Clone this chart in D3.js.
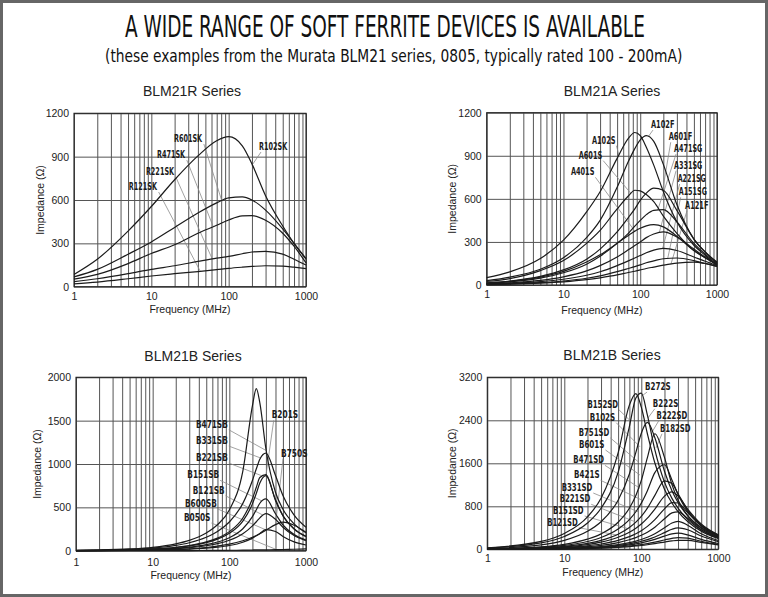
<!DOCTYPE html>
<html>
<head>
<meta charset="utf-8">
<script src="https://cdn.jsdelivr.net/npm/d3@7"></script>
<style>
  html, body { margin: 0; padding: 0; background: #fff; }
  svg { display: block; }
  .grid line { stroke: #555; stroke-width: 1; }
  .curve { fill: none; stroke: #1b1b1b; stroke-width: 1.2; }
  .leader { stroke: #8a8a8a; stroke-width: 0.8; }
  .panel-title, .axis-label { font-family: "Liberation Sans", Arial, sans-serif; fill: #222; }
  .curve-label { font-family: "DejaVu Sans Condensed", "Liberation Sans Narrow", sans-serif; font-weight: bold; fill: #1b1b1b; }
  .headline { font-family: "DejaVu Sans Condensed", "Liberation Sans Narrow", sans-serif; fill: #111; }
</style>
</head>
<body>
<svg id="chart" width="768" height="597"></svg>
<script>
const FREQ_TICKS = [1, 10, 100, 1000];

// BLM21R
const freqR = [1, 2, 5, 10, 20, 40, 70, 100, 150, 200, 300, 500, 700, 1000];
const ticksR = [0, 300, 600, 900, 1200];
const r102sk = [85, 190, 385, 555, 740, 905, 1010, 1038, 975, 850, 630, 420, 300, 196];
const r601sk = [68, 120, 225, 310, 410, 510, 580, 615, 622, 600, 530, 400, 300, 190];
const r471sk = [52, 85, 160, 230, 290, 370, 425, 462, 490, 492, 460, 370, 280, 165];
const r221sk = [35, 55, 90, 120, 145, 175, 198, 210, 228, 240, 245, 225, 190, 150];
const r121sk = [20, 32, 55, 74, 90, 105, 118, 127, 135, 140, 145, 143, 135, 125];

// BLM21A
const freqA = [1, 2, 5, 10, 20, 30, 50, 70, 85, 100, 120, 150, 200, 300, 500, 700, 1000];
const ticksA = [0, 300, 600, 900, 1200];
const a102s = [51, 91, 184, 312, 509, 649, 882, 1021, 1062, 1040, 960, 835, 650, 440, 277, 207, 137];
const a102f = [30, 55, 110, 190, 330, 450, 680, 860, 950, 1010, 1040, 1000, 840, 560, 320, 230, 155];
const a601s = [25, 45, 100, 170, 290, 380, 530, 620, 660, 655, 630, 580, 480, 360, 240, 190, 145];
const a601f = [15, 28, 60, 105, 180, 250, 370, 470, 530, 590, 640, 675, 660, 520, 320, 230, 160];
const a471sg = [12, 22, 48, 85, 145, 200, 290, 360, 410, 450, 490, 520, 525, 440, 290, 215, 150];
const a401s = [14, 25, 55, 95, 160, 210, 290, 345, 375, 395, 412, 420, 405, 340, 240, 190, 140];
const a331sg = [8, 15, 32, 57, 98, 135, 195, 245, 275, 300, 330, 355, 370, 335, 250, 195, 145];
const a221sg = [6, 11, 23, 40, 68, 92, 135, 168, 188, 205, 225, 243, 255, 240, 195, 165, 135];
const a151sg = [4, 8, 16, 28, 47, 64, 93, 115, 128, 140, 155, 168, 183, 188, 170, 150, 130];
const a121f = [3, 6, 13, 22, 37, 50, 70, 87, 96, 105, 115, 125, 138, 153, 160, 150, 130];

// BLM21B (SB types)
const freqB = [1, 2, 5, 10, 20, 30, 50, 70, 100, 150, 200, 225, 250, 300, 400, 500, 700, 1000];
const ticksB = [0, 500, 1000, 1500, 2000];
const b471sb = [4, 8, 20, 39, 79, 119, 204, 299, 470, 918, 1671, 1870, 1705, 1173, 674, 479, 310, 207];
const b331sb = [3, 6, 15, 30, 61, 92, 155, 221, 331, 546, 810, 945, 1056, 1126, 867, 637, 411, 271];
const b221sb = [2, 4, 10, 20, 40, 60, 101, 145, 220, 377, 600, 731, 844, 878, 580, 403, 252, 165];
const b201s = [2, 4, 9, 18, 36, 55, 93, 133, 200, 341, 540, 662, 780, 865, 589, 405, 251, 163];
const b151sb = [1, 3, 7, 14, 27, 41, 70, 100, 150, 253, 393, 473, 547, 597, 426, 299, 187, 122];
const b121sb = [1, 2, 6, 11, 22, 34, 57, 81, 120, 195, 286, 334, 379, 428, 362, 271, 175, 115];
const b600sb = [0, 1, 3, 6, 11, 17, 29, 41, 60, 98, 145, 172, 199, 242, 222, 164, 102, 66];
const b750s = [1, 2, 4, 7, 15, 22, 37, 53, 75, 115, 155, 175, 196, 235, 301, 329, 294, 212];
const b050s = [0, 0, 1, 1, 2, 2, 3, 4, 5, 6, 8, 9, 9, 10, 12, 14, 17, 20];

// BLM21B (S / SD types)
const freqS = [1, 5, 10, 20, 30, 50, 70, 85, 100, 120, 150, 200, 250, 300, 400, 600, 1000];
const ticksS = [0, 800, 1600, 2400, 3200];
const b152sd = [29, 146, 294, 604, 950, 1794, 2682, 2895, 2644, 2150, 1605, 1118, 861, 703, 516, 338, 201];
const b272s = [24, 119, 239, 489, 763, 1431, 2282, 2814, 2904, 2498, 1849, 1250, 947, 766, 557, 363, 215];
const b222s = [16, 82, 165, 334, 512, 914, 1400, 1803, 2160, 2360, 2076, 1453, 1088, 871, 625, 404, 238];
const b222sd = [9, 46, 93, 189, 287, 504, 764, 1000, 1281, 1706, 2150, 1709, 1203, 919, 628, 392, 227];
const b182sd = [7, 36, 72, 145, 220, 378, 552, 699, 859, 1091, 1427, 1573, 1290, 1021, 704, 437, 252];
const b102s = [5, 27, 55, 110, 166, 281, 406, 506, 613, 765, 1003, 1274, 1224, 1034, 731, 452, 259];
const b751sd = [4, 22, 44, 88, 132, 223, 318, 393, 471, 580, 749, 990, 1069, 991, 749, 471, 270];
const b601s = [3, 16, 33, 65, 98, 166, 236, 290, 347, 426, 551, 752, 870, 861, 685, 432, 246];
const b471sd = [2, 12, 25, 49, 74, 125, 177, 218, 260, 319, 412, 567, 677, 696, 576, 366, 207];
const b421s = [2, 9, 17, 35, 52, 88, 125, 153, 183, 224, 288, 399, 488, 520, 449, 288, 163];
const b331sd = [1, 7, 14, 29, 43, 72, 102, 125, 149, 181, 230, 310, 373, 399, 363, 247, 142];
const b221sd = [1, 6, 12, 24, 35, 59, 84, 102, 121, 147, 185, 245, 286, 300, 269, 185, 108];
const b151sd = [1, 4, 9, 17, 26, 43, 61, 74, 87, 105, 132, 173, 204, 219, 207, 150, 90];
const b121sd = [1, 4, 7, 14, 21, 36, 50, 61, 71, 85, 105, 134, 156, 167, 166, 130, 82];

// label placement: [name, text freq, text ohms, leader freq, leader ohms, side]
const labelsR = [
  ["R601SK", 19.6, 1001, 82, 590, "left"],
  ["R471SK", 11.8, 890, 62.7, 420, "left"],
  ["R221SK", 8.5, 773, 61, 195, "left"],
  ["R121SK", 5.1, 669, 42.6, 110, "left"],
  ["R102SK", 247, 946, 200, 840, "right"]
];
const labelsA = [
  ["A102S", 23.5, 984, 53, 900, "left"],
  ["A601S", 15.8, 880, 75, 640, "left"],
  ["A401S", 12.5, 764, 85, 375, "left"],
  ["A102F", 138, 1093, 128, 1035, "right"],
  ["A601F", 235, 1008, 196, 662, "right"],
  ["A471SG", 276, 926, 169, 522, "right"],
  ["A331SG", 276, 810, 177, 365, "right"],
  ["A221SG", 307, 717, 196, 255, "right"],
  ["A151SG", 317, 625, 228, 185, "right"],
  ["A121F", 383, 531, 251, 145, "right"]
];
const labelsB = [
  ["B471SB", 36.7, 1418, 310, 1150, "left"],
  ["B331SB", 36.7, 1230, 255, 1070, "left"],
  ["B221SB", 36.7, 1034, 264, 865, "left"],
  ["B151SB", 28.3, 835, 264, 575, "left"],
  ["B121SB", 33.3, 657, 275, 410, "left"],
  ["B600SB", 26.4, 504, 300, 240, "left"],
  ["B050S", 25.6, 342, 415, 12, "left"],
  ["B201S", 357, 1527, 300, 865, "right"],
  ["B750S", 472, 1084, 400, 300, "right"]
];
const labelsS = [
  ["B152SD", 20, 2630, 71, 2400, "left"],
  ["B102S", 21.4, 2392, 96, 1908, "left"],
  ["B751SD", 15.4, 2110, 91, 1630, "left"],
  ["B601S", 15.5, 1885, 96, 1382, "left"],
  ["B471SD", 13.1, 1600, 96, 1135, "left"],
  ["B421S", 13.4, 1321, 101, 917, "left"],
  ["B331SD", 9.25, 1084, 91, 699, "left"],
  ["B221SD", 8.7, 874, 83, 513, "left"],
  ["B151SD", 7.13, 657, 65, 391, "left"],
  ["B121SD", 6.0, 439, 48, 266, "left"],
  ["B272S", 112, 2963, 101, 2850, "right"],
  ["B222S", 141, 2652, 122, 2442, "right"],
  ["B222SD", 158, 2424, 138, 2182, "right"],
  ["B182SD", 175, 2187, 155, 1884, "right"]
];

const panels = [
  {
    title: "BLM21R Series", box: [74, 113.3, 306, 286.7], yMax: 1200, yTicks: ticksR,
    freq: freqR, series: [r102sk, r601sk, r471sk, r221sk, r121sk], labels: labelsR,
    titleX: 192, titleY: 96, yLabelX: 40, xTickPad: 6, xLabelY: 313, labelSize: 10, charW: 4.7
  },
  {
    title: "BLM21A Series", box: [486.7, 112.7, 717, 285], yMax: 1200, yTicks: ticksA,
    freq: freqA, series: [a102s, a102f, a601s, a601f, a471sg, a401s, a331sg, a221sg, a151sg, a121f],
    labels: labelsA, titleX: 612, titleY: 95.5, yLabelX: 452, xTickPad: 6, xLabelY: 314, labelSize: 10, charW: 4.7
  },
  {
    title: "BLM21B Series", box: [76, 377.3, 306, 550.7], yMax: 2000, yTicks: ticksB,
    freq: freqB, series: [b471sb, b331sb, b221sb, b201s, b151sb, b121sb, b600sb, b750s, b050s],
    labels: labelsB, titleX: 193, titleY: 361, yLabelX: 37, xTickPad: 8, xLabelY: 579, labelSize: 11, charW: 5.3,
    heavy: [b750s]
  },
  {
    title: "BLM21B Series", box: [487.3, 377.3, 718.3, 549.3], yMax: 3200, yTicks: ticksS,
    freq: freqS,
    series: [b152sd, b272s, b222s, b222sd, b182sd, b102s, b751sd, b601s, b471sd, b421s, b331sd, b221sd, b151sd, b121sd],
    labels: labelsS, titleX: 612, titleY: 360, yLabelX: 452, xTickPad: 5.5, xLabelY: 576, labelSize: 9.8, charW: 5.1
  }
];

const svg = d3.select("#chart");

svg.append("rect")
  .attr("x", 1.5).attr("y", 1.5)
  .attr("width", 765).attr("height", 594)
  .attr("fill", "#fff")
  .attr("stroke", "#666")
  .attr("stroke-width", 3);

addHeadline("A WIDE RANGE OF SOFT FERRITE DEVICES IS AVAILABLE", 125, 36.5, 31, 520);
addHeadline("(these examples from the Murata BLM21 series, 0805, typically rated 100 - 200mA)", 105, 62, 18.5, 578);

panels.forEach(drawPanel);

// squeeze a line of text horizontally so it spans the given width
function addHeadline(str, x, y, size, width) {
  const t = svg.append("text")
    .attr("class", "headline")
    .attr("font-size", size)
    .text(str);
  const natural = t.node().getComputedTextLength();
  t.attr("transform", `translate(${x},${y}) scale(${width / natural},1)`);
}

function drawPanel(p) {
  const [x0, y0, x1, y1] = p.box;
  const x = d3.scaleLog().domain([1, 1000]).range([x0, x1]);
  const y = d3.scaleLinear().domain([0, p.yMax]).range([y1, y0]);
  const g = svg.append("g");

  g.append("g")
    .attr("class", "grid")
    .attr("transform", `translate(0,${y1})`)
    .call(d3.axisBottom(x).tickValues(x.ticks()).tickSize(-(y1 - y0)).tickFormat(""))
    .call((s) => s.select(".domain").remove());

  g.append("g")
    .attr("class", "grid")
    .attr("transform", `translate(${x0},0)`)
    .call(d3.axisLeft(y).tickValues(p.yTicks).tickSize(-(x1 - x0)).tickFormat(""))
    .call((s) => s.select(".domain").remove());

  g.append("rect")
    .attr("x", x0).attr("y", y0)
    .attr("width", x1 - x0).attr("height", y1 - y0)
    .attr("fill", "none")
    .attr("stroke", "#222")
    .attr("stroke-width", 1.1);

  styleAxis(
    g.append("g")
      .attr("transform", `translate(0,${y1})`)
      .call(d3.axisBottom(x).tickValues(FREQ_TICKS).tickSize(0).tickPadding(p.xTickPad).tickFormat(d3.format("d")))
  );

  styleAxis(
    g.append("g")
      .attr("transform", `translate(${x0},0)`)
      .call(d3.axisLeft(y).tickValues(p.yTicks).tickSize(0).tickPadding(5).tickFormat(d3.format("d")))
  );

  g.append("text")
    .attr("class", "panel-title")
    .attr("x", p.titleX).attr("y", p.titleY)
    .attr("text-anchor", "middle")
    .attr("font-size", 14)
    .text(p.title);

  g.append("text")
    .attr("class", "axis-label")
    .attr("x", (x0 + x1) / 2).attr("y", p.xLabelY)
    .attr("text-anchor", "middle")
    .attr("font-size", 10.5)
    .text("Frequency (MHz)");

  g.append("text")
    .attr("class", "axis-label")
    .attr("transform", `translate(${p.yLabelX},${(y0 + y1) / 2}) rotate(-90)`)
    .attr("text-anchor", "middle")
    .attr("dy", "0.35em")
    .attr("font-size", 10.5)
    .text("Impedance (\u03A9)");

  const leaders = g.append("g");
  const curves = g.append("g");
  const texts = g.append("g");

  const line = d3.line()
    .x((d) => x(d[0]))
    .y((d) => y(d[1]))
    .curve(d3.curveMonotoneX);

  p.series.forEach((values) => {
    curves.append("path")
      .attr("class", "curve")
      .attr("stroke-width", p.heavy && p.heavy.includes(values) ? 2 : null)
      .attr("d", line(p.freq.map((f, i) => [f, values[i]])));
  });

  p.labels.forEach(([name, tf, tz, lf, lz, side]) => {
    const t = texts.append("text")
      .attr("class", "curve-label")
      .attr("x", x(tf)).attr("y", y(tz))
      .attr("font-size", p.labelSize)
      .attr("textLength", name.length * p.charW)
      .attr("lengthAdjust", "spacingAndGlyphs")
      .text(name);
    const box = t.node().getBBox();
    const sx = side === "left" ? box.x + box.width + 1 : box.x + 2;
    leaders.append("line")
      .attr("class", "leader")
      .attr("x1", sx).attr("y1", y(tz) + 2)
      .attr("x2", x(lf)).attr("y2", y(lz));
  });
}

function styleAxis(sel) {
  sel.select(".domain").remove();
  sel.attr("font-family", "\"Liberation Sans\", Arial, sans-serif")
    .attr("font-size", 10.5)
    .attr("color", "#222");
}
</script>
</body>
</html>
